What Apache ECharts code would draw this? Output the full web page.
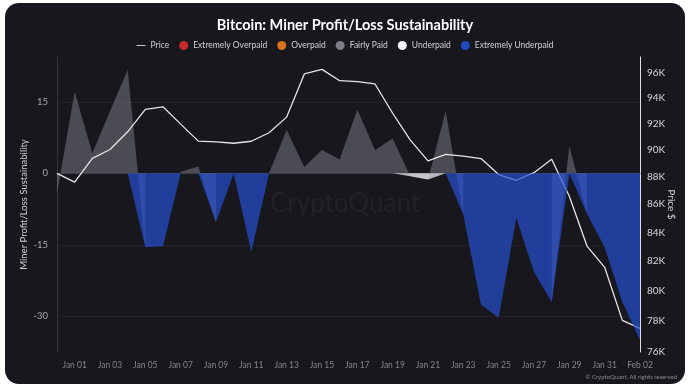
<!DOCTYPE html>
<html><head><meta charset="utf-8">
<script src="https://cdn.jsdelivr.net/npm/echarts@6/dist/echarts.min.js"></script>
<style>
html,body{margin:0;padding:0;background:#ffffff;width:690px;height:388px;overflow:hidden;}
#card{position:absolute;left:5px;top:3px;width:680px;height:381px;border-radius:14px;overflow:hidden;background:#17171d;}
#chart{width:680px;height:381px;}
</style></head><body>
<div id="card"><div id="chart"></div></div>
<script>
const dates = ['Dec 31','Jan 01','Jan 02','Jan 03','Jan 04','Jan 05','Jan 06','Jan 07','Jan 08','Jan 09','Jan 10',
  'Jan 11','Jan 12','Jan 13','Jan 14','Jan 15','Jan 16','Jan 17','Jan 18','Jan 19','Jan 20','Jan 21','Jan 22',
  'Jan 23','Jan 24','Jan 25','Jan 26','Jan 27','Jan 28','Jan 29','Jan 30','Jan 31','Feb 01','Feb 02'];
const price = [88250,87600,89360,90030,91370,93100,93300,91960,90660,90600,90500,90650,91300,92500,95900,96270,
  95360,95280,95100,92800,90740,89180,89660,89530,89350,88160,87740,88300,89300,86580,83040,81580,78040,77520];
const extremelyOverpaid = [];
const overpaid = [];
const fairlyPaid = [-4.2,17.1,4.2,13,21.7,-15.5,null,0.3,1.4,-10.3,null,null,0,9.1,1.3,4.9,2.9,13.4,4.9,7.3,
  -0.6,-1.3,13,-8.7,null,null,null,null,-27,5.7,-8.5,null,null,null];
const underpaid = [null,null,null,null,null,null,null,null,null,null,null,null,null,null,null,null,null,null,null,
  0,-0.6,-1.3,0,null,null,null,null,null,null,null,null,null,null,null];
const extremelyUnderpaid = [-4.2,null,null,null,0,-15.5,-15.3,0,0,-10.3,0,-16.5,0,
  null,null,null,null,null,null,null,null,null,
  0,-8.7,-27.6,-30.3,-9.4,-20.7,-27,0,-8.5,-15.5,-27,-35];
const pnlTicks = [-30,-15,0,15];
const priceTicks = [76000,78000,80000,82000,84000,86000,88000,90000,92000,94000,96000];

const FONT = 'Lato, "Open Sans", sans-serif';
const chart = echarts.init(document.getElementById('chart'), null, {renderer:'canvas'});
const areaCommon = {type:'line', symbol:'none', yAxisIndex:0, lineStyle:{width:0}, emphasis:{disabled:true}, animation:false};
chart.setOption({
  animation:false,
  backgroundColor:'transparent',
  textStyle:{fontFamily:FONT},
  title:{text:'Bitcoin: Miner Profit/Loss Sustainability', left:'center', top:10,
    textStyle:{color:'#ffffff', fontSize:14.5, fontWeight:'bold', fontFamily:FONT}},
  legend:{top:33, left:'center', itemWidth:9, itemHeight:9, itemGap:10, symbolKeepAspect:true,
    textStyle:{color:'#d2d2d6', fontSize:8.5, fontFamily:FONT},
    data:[{name:'Price', icon:'path://M0,0 L12,0 L12,1.4 L0,1.4 Z'},{name:'Extremely Overpaid', icon:'circle'},{name:'Overpaid', icon:'circle'},
      {name:'Fairly Paid', icon:'circle'},{name:'Underpaid', icon:'circle'},{name:'Extremely Underpaid', icon:'circle'}]},
  grid:{left:52, right:45, top:54, bottom:32},
  xAxis:{type:'category', data:dates, boundaryGap:false,
    axisLine:{lineStyle:{color:'#34343b'}}, axisTick:{show:false},
    axisLabel:{interval:(i)=>i%2===1, color:'#85858d', fontSize:8.5, margin:9, fontFamily:FONT},
    splitLine:{show:false}},
  yAxis:[
    {type:'value', min:-37.5, max:24.4, position:'left',
      name:'Miner Profit/Loss Sustainability', nameLocation:'middle', nameGap:28, nameMoveOverlap:false,
      nameTextStyle:{color:'#d2d2d6', fontSize:9.5, fontFamily:FONT},
      axisLine:{show:true, lineStyle:{color:'#34343b'}},
      axisTick:{show:false, customValues:pnlTicks},
      axisLabel:{customValues:pnlTicks, color:'#a8a8ae', fontSize:9.5, margin:9, fontFamily:FONT},
      splitLine:{show:true, lineStyle:{color:'#222229'}}},
    {type:'log', min:76000, max:97270, position:'right',
      name:'Price $', nameLocation:'middle', nameGap:26, nameRotate:-90, nameMoveOverlap:false,
      nameTextStyle:{color:'#d2d2d6', fontSize:10, fontFamily:FONT},
      axisLine:{show:true, lineStyle:{color:'#e0e0e0'}},
      axisTick:{show:false, customValues:priceTicks},
      axisLabel:{customValues:priceTicks, formatter:(v)=>Math.round(v/1000)+'K', color:'#d8d8dc', fontSize:10, margin:7, fontFamily:FONT},
      splitLine:{show:false}}
  ],
  graphic:[
    {type:'text', left:'center', top:188, z:0, silent:true,
      style:{text:'CryptoQuant', fill:'rgba(255,255,255,0.045)', font:'26px ' + FONT}},
    {type:'text', right:8, bottom:4, silent:true,
      style:{text:'© CryptoQuant. All rights reserved', fill:'#8a8a92', font:'6px ' + FONT}}
  ],
  series:[
    {name:'Price', type:'line', yAxisIndex:1, data:price, symbol:'none', z:3,
      lineStyle:{color:'#e6e6e6', width:1.3}, itemStyle:{color:'#c8c8cc'}, emphasis:{disabled:true}},
    Object.assign({}, areaCommon, {name:'Extremely Overpaid', data:extremelyOverpaid, color:'#c62a2e', areaStyle:{}}),
    Object.assign({}, areaCommon, {name:'Overpaid', data:overpaid, color:'#d8721c', areaStyle:{}}),
    Object.assign({}, areaCommon, {name:'Fairly Paid', data:fairlyPaid, color:'#7c7c84', z:1,
      areaStyle:{color:'#8c8c96', opacity:0.45}}),
    Object.assign({}, areaCommon, {name:'Underpaid', data:underpaid, color:'#f2f2f2', z:2,
      areaStyle:{color:'#e4e4e8', opacity:0.8}}),
    Object.assign({}, areaCommon, {name:'Extremely Underpaid', data:extremelyUnderpaid, color:'#2148c0', z:4,
      areaStyle:{color:'#2850d2', opacity:0.7}})
  ]
});
</script>
</body></html>
